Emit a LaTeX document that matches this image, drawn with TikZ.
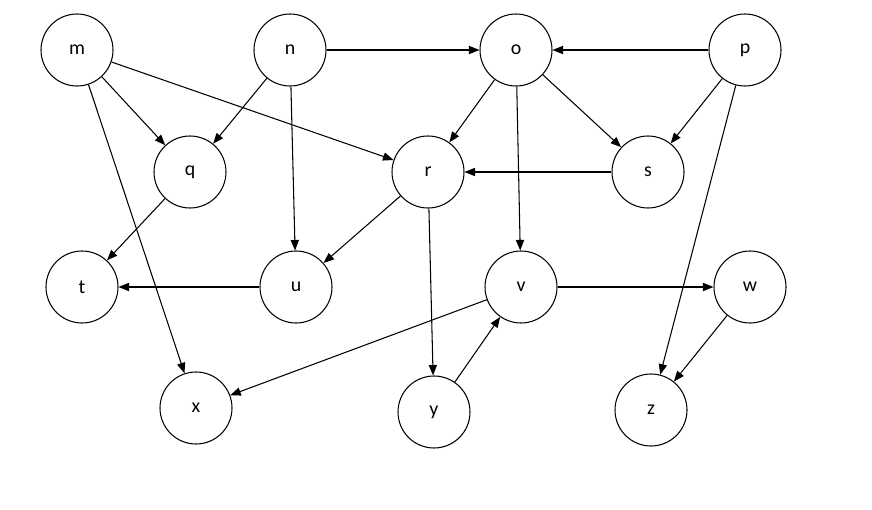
\documentclass[tikz,border=0pt]{standalone}
\usepackage{fontspec}
\setmainfont{Carlito}
\usetikzlibrary{arrows.meta}
\begin{document}
\begin{tikzpicture}[x=0.03cm,y=-0.03cm,
  nd/.style={circle,draw,line width=0.9pt,minimum size=2.16cm,inner sep=0pt,font=\fontsize{17}{20}\selectfont},
  ar/.style={-{Triangle[length=9pt,width=7pt]},line width=0.9pt}]
\useasboundingbox (0,0) rectangle (872,510);
\node[nd] (m) at (77,50) {m};
\node[nd] (n) at (290,50) {n};
\node[nd] (o) at (516,50) {o};
\node[nd] (p) at (745,50) {p};
\node[nd] (q) at (190,172) {q};
\node[nd] (r) at (428,172) {r};
\node[nd] (s) at (648,172) {s};
\node[nd] (t) at (82,287) {t};
\node[nd] (u) at (296,287) {u};
\node[nd] (v) at (521,287) {v};
\node[nd] (w) at (750,287) {w};
\node[nd] (x) at (196,408) {x};
\node[nd] (y) at (434,412) {y};
\node[nd] (z) at (651,410) {z};
\foreach \a/\b in {n/o,p/o,m/q,m/r,m/x,n/q,n/u,o/r,o/s,o/v,p/s,p/z,s/r,q/t,r/u,r/y,u/t,v/w,v/x,y/v,w/z}
  \draw[ar] (\a) -- (\b);
\end{tikzpicture}
\end{document}
